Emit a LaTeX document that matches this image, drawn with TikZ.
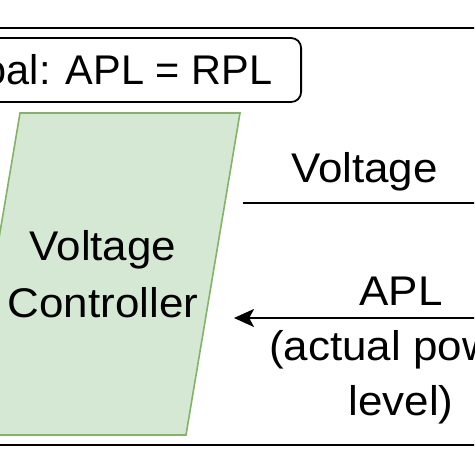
\documentclass[tikz,border=0pt]{standalone}
\usepackage{fontspec}
\setmainfont{Liberation Sans}[FakeStretch=1.06]
\newfontfamily\goalfamily{Liberation Sans}
\usepackage{xcolor}
\usepackage{tikz}
\usetikzlibrary{arrows.meta,positioning}
\definecolor{ctrlfill}{HTML}{D5E8D4}
\definecolor{ctrlline}{HTML}{82B366}
\newcommand{\diagfont}{\fontsize{29.5pt}{40pt}\selectfont}
\tikzset{
  frame/.style={draw=black,line width=0.5mm},
  goalbox/.style={draw=black,line width=0.45mm,rounded corners=2.5mm,fill=white,
    inner xsep=7.2mm,inner ysep=0pt,minimum height=16mm,font=\goalfamily\diagfont},
  ctrlshape/.style={draw=ctrlline,line width=0.4mm,fill=ctrlfill},
  ctrltxt/.style={inner sep=0pt,align=center,font=\fontsize{29.5pt}{40.5pt}\selectfont},
  sig/.style={line width=0.5mm,draw=black},
  flow/.style={sig,-{Stealth[length=5mm,width=4.5mm,inset=1.2mm]}},
  elabel/.style={font=\diagfont,inner sep=0pt,anchor=base},
}
\begin{document}
\begin{tikzpicture}[x=0.25mm,y=-0.25mm]
  \useasboundingbox (0,0) rectangle (474,474);
  \clip (0,0) rectangle (474,474);
  % outer frame
  \draw[frame] (-60,28) rectangle (600,445);
  % goal
  \node[goalbox,anchor=east] (goal) at (302,70) {Goal: APL = RPL};
  % controller
  \draw[ctrlshape] (20,113) -- (240,113) -- (186,435) -- (-34,435) -- cycle;
  \node[ctrltxt] (ctrl) at (103,274) {Voltage\\Controller};
  % signals
  \coordinate (vout) at (243,203);
  \coordinate (vplant) at (486,203);
  \coordinate (aplin) at (234,318);
  \coordinate (aplplant) at (568,318);
  \draw[sig] (vout) -- node[elabel,yshift=5.25mm] (vlab) {Voltage} (vplant);
  \draw[flow] (aplplant) --
    node[elabel,yshift=3.25mm] (apl) {APL}
    node[elabel,yshift=-10.5mm] (apl2) {(actual power}
    node[elabel,yshift=-24.25mm] (apl3) {level)} (aplin);
\end{tikzpicture}
\end{document}
